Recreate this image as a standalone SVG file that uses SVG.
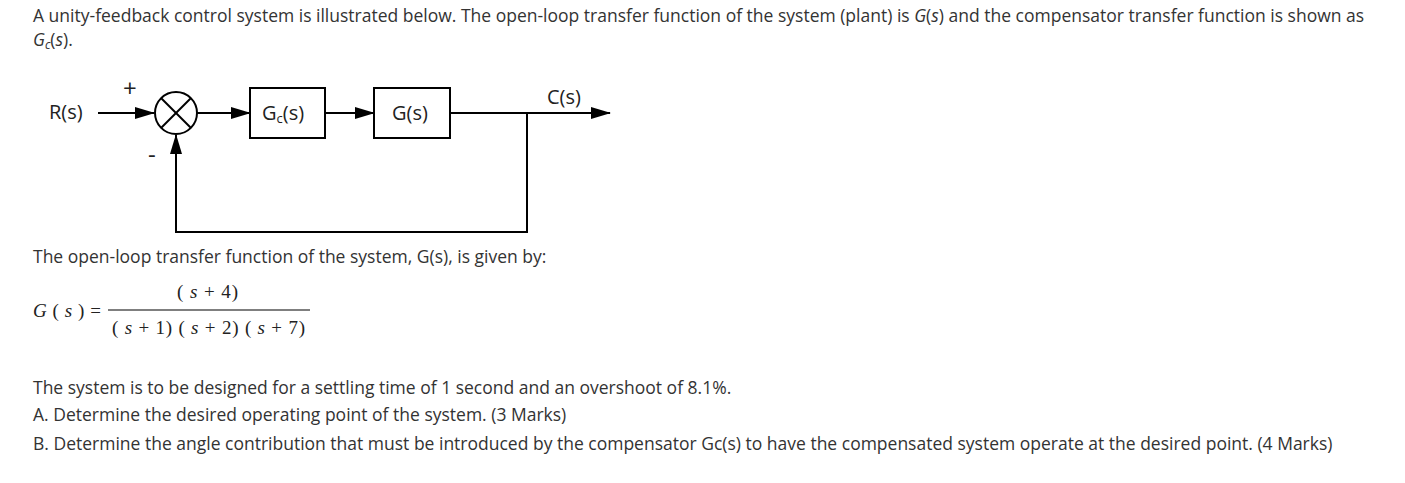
<svg xmlns="http://www.w3.org/2000/svg" width="1405" height="483" viewBox="0 0 1405 483">
<style>
.t{font-family:"Open Sans",sans-serif;font-size:17.5px;fill:#333}
.d{font-family:"Open Sans",sans-serif;font-size:20px;fill:#222}
.m{font-family:"Liberation Serif",serif;font-size:19px;fill:#222}
.l{stroke:#000;stroke-width:2;fill:none}
.b{stroke:#000;stroke-width:2;fill:#fff}
</style>
<defs><marker id="a2" markerWidth="20" markerHeight="12" refX="19" refY="6" orient="auto" markerUnits="userSpaceOnUse"><path d="M0,0 L20,6 L0,12 Z" fill="#000"/></marker></defs>
<rect width="1405" height="483" fill="#fff"/>
<text class="t" x="33" y="22">A unity-feedback control system is illustrated below. The open-loop transfer function of the system (plant) is <tspan font-style="italic">G</tspan>(<tspan font-style="italic">s</tspan>) and the compensator transfer function is shown as</text>
<text class="t" x="33" y="46"><tspan font-style="italic">G<tspan style="font-size:12px" dy="3">c</tspan></tspan><tspan dy="-3">(</tspan><tspan font-style="italic">s</tspan>).</text>
<g id="connectors">
<line class="l" x1="98" y1="113" x2="154" y2="113" marker-end="url(#a2)"/>
<line class="l" x1="197" y1="113" x2="250" y2="113" marker-end="url(#a2)"/>
<line class="l" x1="325" y1="113" x2="374" y2="113" marker-end="url(#a2)"/>
<line class="l" x1="450" y1="113" x2="610" y2="113" marker-end="url(#a2)"/>
<polyline class="l" points="527,113 527,232 176,232 176,135" marker-end="url(#a2)"/>
</g>
<g id="sum"><circle class="b" cx="176" cy="113" r="21"/>
<line class="l" x1="161" y1="98" x2="191" y2="128"/><line class="l" x1="191" y1="98" x2="161" y2="128"/>
<text class="d" x="123" y="97" style="font-size:24px">+</text><text class="d" x="148" y="163" style="font-size:24px">-</text></g>
<g id="R"><text class="d" x="49" y="119">R(s)</text></g>
<g id="Gc"><rect class="b" x="250" y="88" width="75" height="50"/><text class="d" x="262" y="120">G<tspan style="font-size:13px" dy="3">c</tspan><tspan dy="-3">(s)</tspan></text></g>
<g id="G"><rect class="b" x="374" y="88" width="76" height="50"/><text class="d" x="392" y="120">G(s)</text></g>
<g id="C"><text class="d" x="547" y="104">C(s)</text></g>
<text class="t" x="33" y="263">The open-loop transfer function of the system, G(s), is given by:</text>
<text class="m" x="33" y="317" textLength="68" lengthAdjust="spacing"><tspan font-style="italic">G</tspan> ( <tspan font-style="italic">s</tspan> ) =</text>
<line x1="108" y1="310" x2="310" y2="310" stroke="#000" stroke-width="1.2"/>
<text class="m" x="177" y="298" textLength="61" lengthAdjust="spacing">( <tspan font-style="italic">s</tspan> + 4)</text>
<text class="m" x="112" y="334" textLength="193" lengthAdjust="spacing">( <tspan font-style="italic">s</tspan> + 1) ( <tspan font-style="italic">s</tspan> + 2) ( <tspan font-style="italic">s</tspan> + 7)</text>
<text class="t" x="33" y="394">The system is to be designed for a settling time of 1 second and an overshoot of 8.1%.</text>
<text class="t" x="33" y="421">A. Determine the desired operating point of the system. (3 Marks)</text>
<text class="t" x="33" y="450">B. Determine the angle contribution that must be introduced by the compensator Gc(s) to have the compensated system operate at the desired point. (4 Marks)</text>
</svg>
